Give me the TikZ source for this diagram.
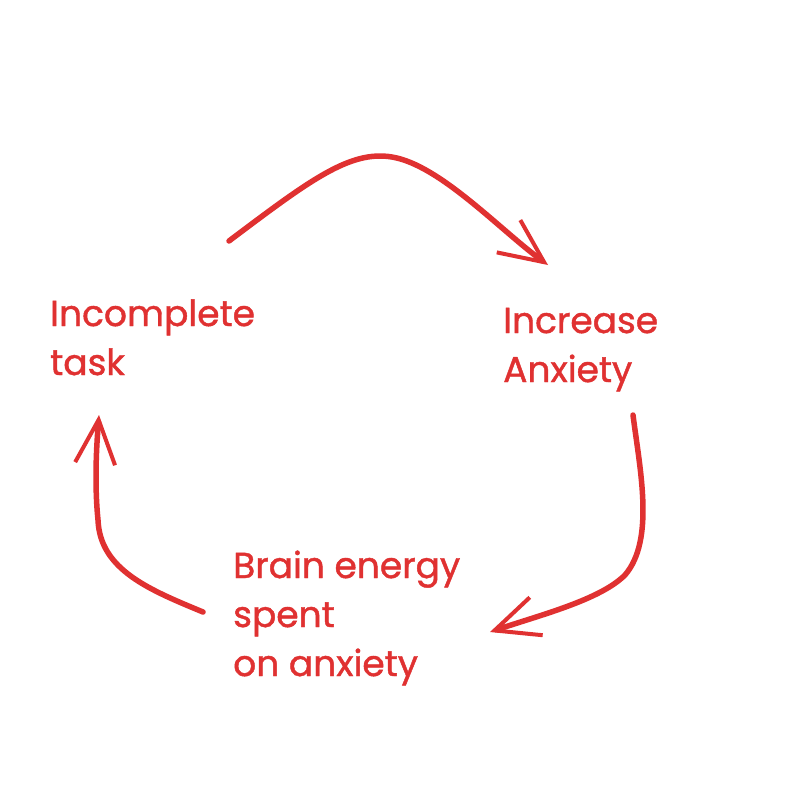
\documentclass[tikz,border=0pt]{standalone}
\usepackage{fontspec}
\setmainfont{Poppins}
\newfontfamily\sketchfont{Poppins}[FakeBold=1.2]
\usetikzlibrary{arrows.meta,positioning}
\definecolor{sketchred}{HTML}{E03131}

\begin{document}
\begin{tikzpicture}
		[x=1pt,y=-1pt,
		word/.style={text=sketchred,font=\sketchfont\fontsize{36}{49}\selectfont,align=left,inner sep=0pt,anchor=base west},
		flow/.style={draw=sketchred,line width=5.5pt,line cap=round,line join=round,
			-{Straight Barb[length=44pt,width=40pt,line width=4pt]}}]
		\useasboundingbox [fill=white] (0,0) rectangle (788,788);

		\node [word] (incomplete) at (50,375) {Incomplete\\task};
		\node [word] (anxiety) at (503,382) {Increase\\Anxiety};
		\node [word] (brain) at (233,676) {Brain energy\\spent\\on anxiety};

		\coordinate (t1) at (229,241);
		\coordinate (t2) at (548,265);
		\coordinate (r1) at (633,415);
		\coordinate (r2) at (490,632);
		\coordinate (l1) at (203,612);
		\coordinate (l2) at (99,415);

		\draw [flow] (t1) .. controls (310,180) and (350,150) .. (392,157)
			.. controls (440,165) and (500,230) .. (t2);
		\draw [flow] (r1) .. controls (640,470) and (655,540) .. (625,575)
			.. controls (600,600) and (540,615) .. (r2);
		\draw [flow] (l1) .. controls (150,590) and (100,570) .. (98,520)
			.. controls (94,480) and (97,440) .. (l2);
	\end{tikzpicture}
\end{document}
